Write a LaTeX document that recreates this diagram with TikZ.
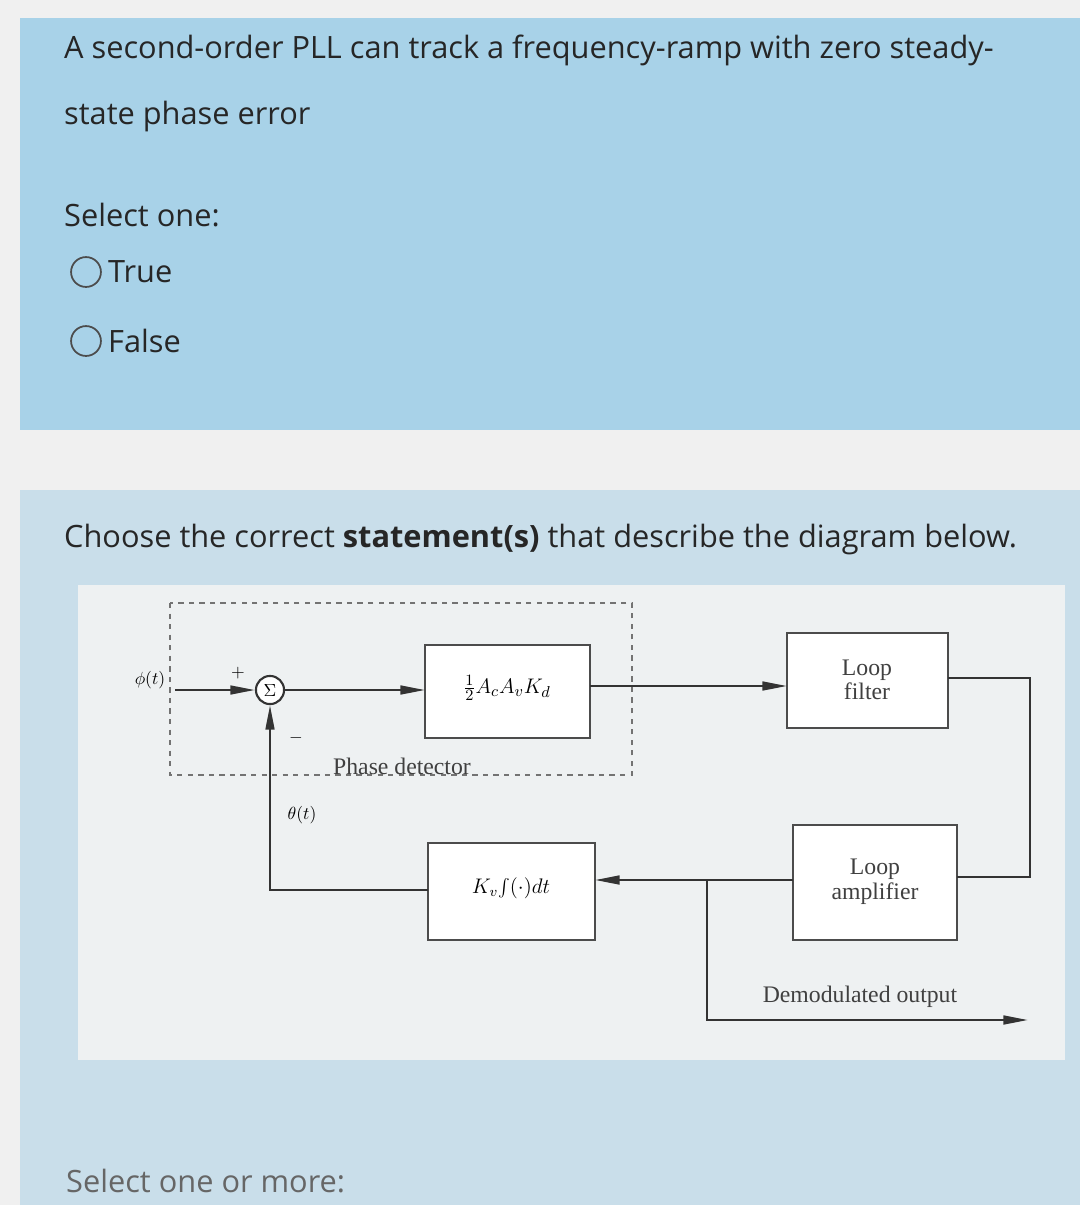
\documentclass[tikz,border=0pt]{standalone}
\usepackage{fontspec}
\setmainfont{Liberation Serif}
\newfontfamily\uisans{Open Sans}
\usetikzlibrary{arrows.meta}
\definecolor{pa}{HTML}{A8D2E8}
\definecolor{pb}{HTML}{C9DEEA}
\definecolor{pc}{HTML}{EEF1F2}
\begin{document}
\begin{tikzpicture}[x=0.02cm,y=-0.02cm,
  blk/.style={draw=black!70,line width=1.2pt,fill=white},
  wire/.style={line width=1.3pt,black!80},
  arr/.style={wire,-{Triangle[length=14pt,width=5pt]}},
  q/.style={font=\uisans\fontsize{17.5pt}{20pt}\selectfont,anchor=west,text=black!85},
  dl/.style={font=\fontsize{13.5pt}{14pt}\selectfont,text=black!75,align=center}]
\useasboundingbox (0,0) rectangle (1080,1205);
\fill[black!6] (0,0) rectangle (1080,1205);
\fill[pa] (20,18) rectangle (1080,430);
\fill[pb] (20,490) rectangle (1080,1205);
\fill[pc] (78,585) rectangle (1065,1060);
\node[q] (t1) at (58,50) {A second-order PLL can track a frequency-ramp with zero steady-};
\node[q] (t2) at (58,117) {state phase error};
\node[q] (t3) at (58,215) {Select one:};
\node[draw=black!70,line width=1pt,circle,minimum size=17pt,inner sep=0] (r1) at (86,272) {};
\node[q] (tt) at (102,272) {True};
\node[draw=black!70,line width=1pt,circle,minimum size=17pt,inner sep=0] (r2) at (86,341) {};
\node[q] (tf) at (102,341) {False};
\node[q] (c1) at (58,540) {Choose the correct \textbf{statement(s)} that describe the diagram below.};
\node[q,text=black!60] (c2) at (60,1181) {Select one or more:};
% diagram
\draw[dashed,black!55,line width=1pt] (170,603) rectangle (632,775);
\draw[blk] (425,645) rectangle (590,738);
\node (pdt) at (507,688) {\fontsize{13pt}{14pt}\selectfont $\frac{1}{2}A_cA_vK_d$};
\draw[blk] (787,633) rectangle (948,728);
\node[dl] (lf) at (867,680) {Loop\\filter};
\draw[blk] (793,825) rectangle (957,940);
\node[dl] (la) at (875,882) {Loop\\amplifier};
\draw[blk] (428,843) rectangle (595,940);
\node (vco) at (511,888) {\fontsize{12pt}{13pt}\selectfont $K_v\!\int(\cdot)dt$};
\node[draw=black!80,line width=1.2pt,circle,minimum size=16pt,inner sep=0pt,fill=white] (s) at (270,690) {$\Sigma$};
\node (phi) at (150,680) {$\phi(t)$};
\node (pl) at (238,673) {$+$};
\node (mi) at (296,738) {$-$};
\node (th) at (302,815) {$\theta(t)$};
\node[dl] (pdl) at (402,766) {Phase detector};
\node[dl] (dm) at (860,997) {Demodulated output};
\coordinate (a0) at (175,690);
\coordinate (b1) at (425,690);
\coordinate (b1r) at (590,686);
\coordinate (lfi) at (787,686);
\coordinate (lfo) at (948,678);
\coordinate (c1a) at (1030,678);
\coordinate (c1b) at (1030,877);
\coordinate (lao) at (957,877);
\coordinate (lai) at (793,880);
\coordinate (vi) at (595,880);
\coordinate (j) at (707,880);
\coordinate (j2) at (707,1020);
\coordinate (out) at (1028,1020);
\coordinate (vo) at (428,890);
\draw[arr] (a0) -- (s);
\draw[arr] (s) -- (b1);
\draw[arr] (b1r) -- (lfi);
\draw[wire] (lfo) -- (c1a) -- (c1b) -- (lao);
\draw[arr] (lai) -- (vi);
\draw[arr] (j) -- (j2) -- (out);
\draw[arr] (vo) -- (s.south |- vo) -- (s.south);
\end{tikzpicture}
\end{document}
